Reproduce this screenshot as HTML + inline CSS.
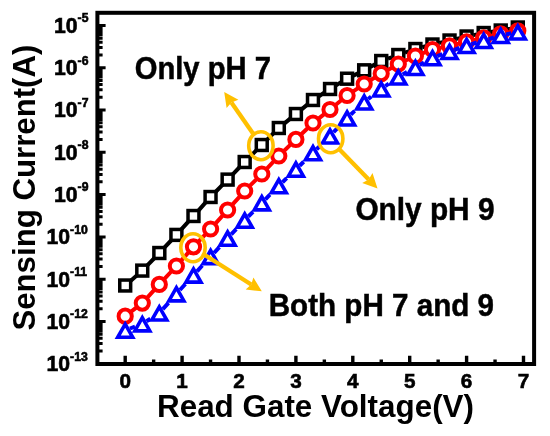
<!DOCTYPE html>
<html lang="en"><head><meta charset="utf-8"><title>Sensing Current vs Read Gate Voltage</title>
<style>html,body{margin:0;padding:0;background:#fff}svg{display:block}text{font-family:"Liberation Sans",Arial,sans-serif;font-weight:bold;fill:#000}</style></head><body>
<svg width="550" height="436" viewBox="0 0 550 436">
<rect width="550" height="436" fill="#fff"/>
<rect x="97.4" y="12.8" width="436.70000000000005" height="351.2" fill="none" stroke="#000" stroke-width="4"/>
<path d="M97.4 363.80h8.2 M97.4 351.07h5.2 M97.4 343.62h5.2 M97.4 338.33h5.2 M97.4 334.23h5.2 M97.4 330.88h5.2 M97.4 328.05h5.2 M97.4 325.60h5.2 M97.4 323.44h5.2 M97.4 321.50h8.2 M97.4 308.77h5.2 M97.4 301.32h5.2 M97.4 296.03h5.2 M97.4 291.93h5.2 M97.4 288.58h5.2 M97.4 285.75h5.2 M97.4 283.30h5.2 M97.4 281.14h5.2 M97.4 279.20h8.2 M97.4 266.47h5.2 M97.4 259.02h5.2 M97.4 253.73h5.2 M97.4 249.63h5.2 M97.4 246.28h5.2 M97.4 243.45h5.2 M97.4 241.00h5.2 M97.4 238.84h5.2 M97.4 236.90h8.2 M97.4 224.17h5.2 M97.4 216.72h5.2 M97.4 211.43h5.2 M97.4 207.33h5.2 M97.4 203.98h5.2 M97.4 201.15h5.2 M97.4 198.70h5.2 M97.4 196.54h5.2 M97.4 194.60h8.2 M97.4 181.87h5.2 M97.4 174.42h5.2 M97.4 169.13h5.2 M97.4 165.03h5.2 M97.4 161.68h5.2 M97.4 158.85h5.2 M97.4 156.40h5.2 M97.4 154.24h5.2 M97.4 152.30h8.2 M97.4 139.57h5.2 M97.4 132.12h5.2 M97.4 126.83h5.2 M97.4 122.73h5.2 M97.4 119.38h5.2 M97.4 116.55h5.2 M97.4 114.10h5.2 M97.4 111.94h5.2 M97.4 110.00h8.2 M97.4 97.27h5.2 M97.4 89.82h5.2 M97.4 84.53h5.2 M97.4 80.43h5.2 M97.4 77.08h5.2 M97.4 74.25h5.2 M97.4 71.80h5.2 M97.4 69.64h5.2 M97.4 67.70h8.2 M97.4 54.97h5.2 M97.4 47.52h5.2 M97.4 42.23h5.2 M97.4 38.13h5.2 M97.4 34.78h5.2 M97.4 31.95h5.2 M97.4 29.50h5.2 M97.4 27.34h5.2 M97.4 25.40h8.2" stroke="#000" stroke-width="3" fill="none"/>
<path d="M125.20 364.0v-8.2 M153.65 364.0v-4.6 M182.10 364.0v-8.2 M210.55 364.0v-4.6 M239.00 364.0v-8.2 M267.45 364.0v-4.6 M295.90 364.0v-8.2 M324.35 364.0v-4.6 M352.80 364.0v-8.2 M381.25 364.0v-4.6 M409.70 364.0v-8.2 M438.15 364.0v-4.6 M466.60 364.0v-8.2 M495.05 364.0v-4.6 M523.50 364.0v-8.2" stroke="#000" stroke-width="3.4" fill="none"/>
<text x="125.20" y="387.5" font-size="20.7" stroke="#000" stroke-width="0.6" text-anchor="middle">0</text>
<text x="182.10" y="387.5" font-size="20.7" stroke="#000" stroke-width="0.6" text-anchor="middle">1</text>
<text x="239.00" y="387.5" font-size="20.7" stroke="#000" stroke-width="0.6" text-anchor="middle">2</text>
<text x="295.90" y="387.5" font-size="20.7" stroke="#000" stroke-width="0.6" text-anchor="middle">3</text>
<text x="352.80" y="387.5" font-size="20.7" stroke="#000" stroke-width="0.6" text-anchor="middle">4</text>
<text x="409.70" y="387.5" font-size="20.7" stroke="#000" stroke-width="0.6" text-anchor="middle">5</text>
<text x="466.60" y="387.5" font-size="20.7" stroke="#000" stroke-width="0.6" text-anchor="middle">6</text>
<text x="523.50" y="387.5" font-size="20.7" stroke="#000" stroke-width="0.6" text-anchor="middle">7</text>
<text x="46.5" y="371.10" font-size="21.2" stroke="#000" stroke-width="0.6">10<tspan font-size="12.2" dy="-10.5">-13</tspan></text>
<text x="46.5" y="328.80" font-size="21.2" stroke="#000" stroke-width="0.6">10<tspan font-size="12.2" dy="-10.5">-12</tspan></text>
<text x="46.5" y="286.50" font-size="21.2" stroke="#000" stroke-width="0.6">10<tspan font-size="12.2" dy="-10.5">-11</tspan></text>
<text x="46.5" y="244.20" font-size="21.2" stroke="#000" stroke-width="0.6">10<tspan font-size="12.2" dy="-10.5">-10</tspan></text>
<text x="54" y="201.90" font-size="21.2" stroke="#000" stroke-width="0.6">10<tspan font-size="12.2" dy="-10.5">-9</tspan></text>
<text x="54" y="159.60" font-size="21.2" stroke="#000" stroke-width="0.6">10<tspan font-size="12.2" dy="-10.5">-8</tspan></text>
<text x="54" y="117.30" font-size="21.2" stroke="#000" stroke-width="0.6">10<tspan font-size="12.2" dy="-10.5">-7</tspan></text>
<text x="54" y="75.00" font-size="21.2" stroke="#000" stroke-width="0.6">10<tspan font-size="12.2" dy="-10.5">-6</tspan></text>
<text x="54" y="32.70" font-size="21.2" stroke="#000" stroke-width="0.6">10<tspan font-size="12.2" dy="-10.5">-5</tspan></text>
<text x="157" y="416.8" font-size="30.8" textLength="317" lengthAdjust="spacingAndGlyphs">Read Gate Voltage(V)</text>
<text transform="translate(34.5 330.6) rotate(-90)" font-size="31.5" textLength="286" lengthAdjust="spacingAndGlyphs">Sensing Current(A)</text>
<path d="M130.5 280.9L137.0 275.2 M147.1 265.6L154.5 258.0 M164.1 247.9L171.6 240.0 M181.1 229.7L188.8 221.2 M198.2 210.8L205.9 202.2 M215.5 192.0L222.7 184.6 M232.5 174.6L239.8 167.0 M249.6 157.1L256.8 149.9 M266.7 140.1L273.9 132.9 M284.2 123.6L290.5 118.4 M301.3 109.6L307.6 104.4 M318.9 96.2L324.2 92.8 M336.0 85.4L341.1 82.3 M353.4 75.6L357.9 73.4 M370.3 67.0L375.1 64.3 M387.9 58.7L391.7 57.3 M404.9 52.7L408.8 51.3 M422.2 47.2L425.7 46.3 M439.3 42.9L442.7 42.1 M456.3 38.9L459.8 38.1 M473.5 35.1L476.8 34.4 M490.6 32.0L493.8 31.5 M507.6 29.3L510.9 28.7" fill="none" stroke="#000" stroke-width="4"/>
<g fill="#fff" stroke="#000" stroke-width="3.5">
<rect x="119.75" y="280.05" width="10.9" height="10.9"/>
<rect x="136.82" y="265.15" width="10.9" height="10.9"/>
<rect x="153.89" y="247.55" width="10.9" height="10.9"/>
<rect x="170.96" y="229.45" width="10.9" height="10.9"/>
<rect x="188.03" y="210.55" width="10.9" height="10.9"/>
<rect x="205.10" y="191.55" width="10.9" height="10.9"/>
<rect x="222.17" y="174.15" width="10.9" height="10.9"/>
<rect x="239.24" y="156.55" width="10.9" height="10.9"/>
<rect x="256.31" y="139.55" width="10.9" height="10.9"/>
<rect x="273.38" y="122.55" width="10.9" height="10.9"/>
<rect x="290.45" y="108.55" width="10.9" height="10.9"/>
<rect x="307.52" y="94.55" width="10.9" height="10.9"/>
<rect x="324.59" y="83.55" width="10.9" height="10.9"/>
<rect x="341.66" y="73.25" width="10.9" height="10.9"/>
<rect x="358.73" y="64.85" width="10.9" height="10.9"/>
<rect x="375.80" y="55.55" width="10.9" height="10.9"/>
<rect x="392.87" y="49.55" width="10.9" height="10.9"/>
<rect x="409.94" y="43.55" width="10.9" height="10.9"/>
<rect x="427.01" y="39.05" width="10.9" height="10.9"/>
<rect x="444.08" y="35.05" width="10.9" height="10.9"/>
<rect x="461.15" y="31.05" width="10.9" height="10.9"/>
<rect x="478.22" y="27.55" width="10.9" height="10.9"/>
<rect x="495.29" y="25.05" width="10.9" height="10.9"/>
<rect x="512.36" y="22.05" width="10.9" height="10.9"/>
</g>
<path d="M131.1 311.6L136.3 307.7 M147.3 297.6L154.3 289.9 M164.4 278.9L171.3 271.5 M181.4 260.4L188.5 252.4 M198.7 241.4L205.4 234.4 M215.6 223.4L222.6 215.6 M232.6 204.4L239.7 196.6 M250.0 185.7L256.4 179.3 M266.9 168.6L273.7 161.4 M284.2 150.8L290.5 144.6 M301.3 134.2L307.6 128.2 M318.9 118.3L324.2 114.2 M335.8 104.7L341.3 100.3 M353.3 91.3L358.0 88.2 M370.6 80.1L374.8 77.5 M387.8 69.9L391.8 67.7 M405.1 60.8L408.6 59.2 M422.4 53.3L425.5 52.2 M439.8 47.9L442.2 47.4 M456.8 44.1L459.3 43.5 M473.9 40.1L476.4 39.5 M491.0 36.1L493.4 35.5 M508.1 32.5L510.4 32.1" fill="none" stroke="#f00" stroke-width="4"/>
<g fill="#fff" stroke="#f00" stroke-width="4">
<circle cx="125.2" cy="316.2" r="6.6"/>
<circle cx="142.3" cy="303.1" r="6.6"/>
<circle cx="159.3" cy="284.4" r="6.6"/>
<circle cx="176.4" cy="266.0" r="6.6"/>
<circle cx="193.5" cy="246.8" r="6.6"/>
<circle cx="210.6" cy="229.0" r="6.6"/>
<circle cx="227.6" cy="210.0" r="6.6"/>
<circle cx="244.7" cy="191.0" r="6.6"/>
<circle cx="261.8" cy="174.0" r="6.6"/>
<circle cx="278.8" cy="156.0" r="6.6"/>
<circle cx="295.9" cy="139.4" r="6.6"/>
<circle cx="313.0" cy="123.0" r="6.6"/>
<circle cx="330.0" cy="109.5" r="6.6"/>
<circle cx="347.1" cy="95.5" r="6.6"/>
<circle cx="364.2" cy="84.0" r="6.6"/>
<circle cx="381.2" cy="73.6" r="6.6"/>
<circle cx="398.3" cy="64.0" r="6.6"/>
<circle cx="415.4" cy="56.0" r="6.6"/>
<circle cx="432.5" cy="49.5" r="6.6"/>
<circle cx="449.5" cy="45.8" r="6.6"/>
<circle cx="466.6" cy="41.8" r="6.6"/>
<circle cx="483.7" cy="37.8" r="6.6"/>
<circle cx="500.7" cy="33.8" r="6.6"/>
<circle cx="517.8" cy="30.8" r="6.6"/>
</g>
<path d="M129.9 328.5L135.0 326.6 M146.5 321.2L150.4 318.7 M162.8 309.1L168.5 302.8 M179.9 290.0L185.4 284.0 M197.0 271.3L202.3 265.5 M214.1 252.8L219.4 247.1 M231.2 234.4L236.2 229.1 M248.3 216.5L253.0 211.8 M265.4 199.3L269.9 194.7 M282.5 182.2L286.7 178.1 M299.6 165.7L303.7 161.7 M316.6 149.2L321.0 144.9 M333.6 132.2L338.7 126.9 M350.8 114.5L354.7 110.9 M368.2 99.0L371.2 96.7 M385.3 86.1L388.8 83.7 M402.7 74.6L407.0 72.1 M419.7 65.0L424.0 62.6 M437.2 56.1L442.3 54.2 M454.3 49.8L459.5 48.0 M471.5 44.1L476.8 42.5 M488.6 39.1L493.9 37.5 M505.9 34.5L511.3 33.3" fill="none" stroke="#00f" stroke-width="4"/>
<g fill="#fff" stroke="#00f" stroke-width="3.6" stroke-linejoin="miter">
<path d="M125.2 324.1L132.7 337.3H117.7Z"/>
<path d="M142.3 317.7L149.8 330.9H134.8Z"/>
<path d="M159.3 306.8L166.8 320.0H151.8Z"/>
<path d="M176.4 287.7L183.9 300.9H168.9Z"/>
<path d="M193.5 268.9L201.0 282.1H186.0Z"/>
<path d="M210.6 250.4L218.1 263.6H203.1Z"/>
<path d="M227.6 232.0L235.1 245.2H220.1Z"/>
<path d="M244.7 214.0L252.2 227.2H237.2Z"/>
<path d="M261.8 196.7L269.3 209.9H254.3Z"/>
<path d="M278.8 179.6L286.3 192.8H271.3Z"/>
<path d="M295.9 163.0L303.4 176.2H288.4Z"/>
<path d="M313.0 146.6L320.5 159.8H305.5Z"/>
<path d="M330.0 129.8L337.5 143.0H322.5Z"/>
<path d="M347.1 111.8L354.6 125.0H339.6Z"/>
<path d="M364.2 95.8L371.7 109.0H356.7Z"/>
<path d="M381.2 82.8L388.8 96.0H373.8Z"/>
<path d="M398.3 70.8L405.8 84.0H390.8Z"/>
<path d="M415.4 61.3L422.9 74.5H407.9Z"/>
<path d="M432.5 51.6L440.0 64.8H425.0Z"/>
<path d="M449.5 45.3L457.0 58.5H442.0Z"/>
<path d="M466.6 39.3L474.1 52.5H459.1Z"/>
<path d="M483.7 34.3L491.2 47.5H476.2Z"/>
<path d="M500.7 29.3L508.2 42.5H493.2Z"/>
<path d="M517.8 25.8L525.3 39.0H510.3Z"/>
</g>
<ellipse cx="260.9" cy="145.7" rx="12.2" ry="14" fill="none" stroke="#ffc000" stroke-width="3.6"/>
<ellipse cx="330.7" cy="138.7" rx="12.2" ry="14" fill="none" stroke="#ffc000" stroke-width="3.6"/>
<ellipse cx="193" cy="247.7" rx="12.2" ry="14" fill="none" stroke="#ffc000" stroke-width="3.6"/>
<line x1="253.0" y1="133.5" x2="231.4" y2="102.4" stroke="#ffc000" stroke-width="4.3"/>
<polygon points="224.2,92.0 238.4,99.8 231.4,102.4 226.6,108.0" fill="#ffc000"/>
<line x1="339.3" y1="149.3" x2="368.7" y2="179.5" stroke="#ffc000" stroke-width="4.3"/>
<polygon points="377.5,188.5 362.2,183.1 368.7,179.5 372.5,173.1" fill="#ffc000"/>
<line x1="204.0" y1="254.5" x2="251.2" y2="284.5" stroke="#ffc000" stroke-width="4.3"/>
<polygon points="261.8,291.3 245.7,289.6 251.2,284.5 253.4,277.4" fill="#ffc000"/>
<text x="134.7" y="79.2" font-size="32" textLength="136.3" stroke="#000" stroke-width="0.5" lengthAdjust="spacingAndGlyphs">Only pH 7</text>
<text x="355.4" y="220.2" font-size="32" textLength="139.1" stroke="#000" stroke-width="0.5" lengthAdjust="spacingAndGlyphs">Only pH 9</text>
<text x="268.7" y="315.8" font-size="32" textLength="225.3" stroke="#000" stroke-width="0.5" lengthAdjust="spacingAndGlyphs">Both pH 7 and 9</text>
</svg></body></html>
